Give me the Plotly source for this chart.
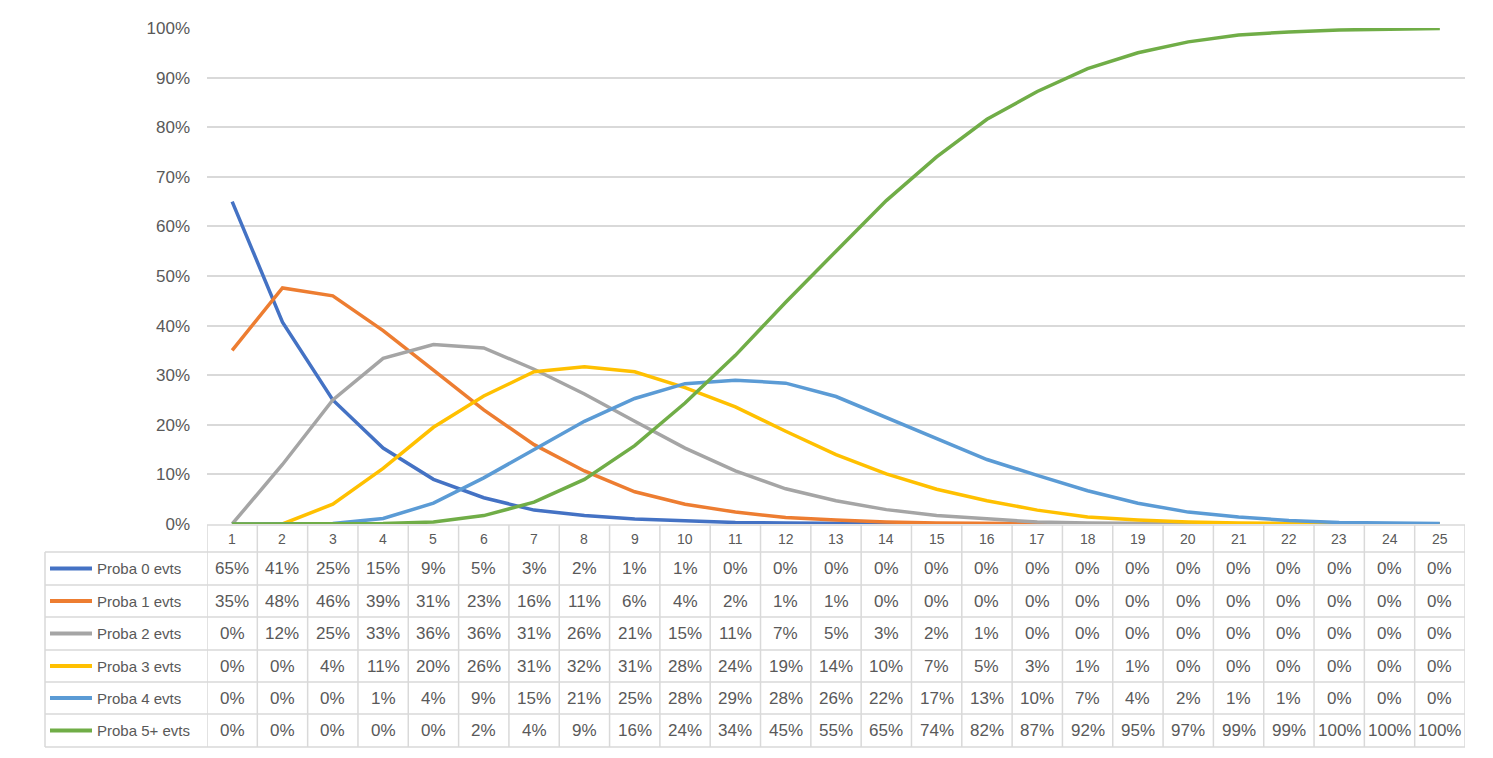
import plotly.graph_objects as go

x = list(range(1, 26))
names = ["Proba 0 evts", "Proba 1 evts", "Proba 2 evts", "Proba 3 evts", "Proba 4 evts", "Proba 5+ evts"]
p0 = [0.65,0.407,0.25,0.153,0.09,0.053,0.028,0.017,0.01,0.006,0.003,0.002,0.001,0,0,0,0,0,0,0,0,0,0,0,0]
p1 = [0.35,0.476,0.46,0.39,0.31,0.23,0.16,0.107,0.065,0.04,0.024,0.013,0.008,0.004,0.002,0.001,0,0,0,0,0,0,0,0,0]
p2 = [0,0.12,0.25,0.334,0.362,0.355,0.312,0.262,0.207,0.153,0.107,0.071,0.047,0.029,0.017,0.01,0.004,0.002,0.001,0,0,0,0,0,0]
p3 = [0,0,0.04,0.112,0.195,0.258,0.307,0.317,0.307,0.275,0.236,0.187,0.14,0.101,0.07,0.047,0.028,0.014,0.008,0.004,0.002,0.001,0,0,0]
p4 = [0,0,0.001,0.011,0.042,0.093,0.15,0.207,0.253,0.283,0.29,0.284,0.257,0.215,0.173,0.13,0.098,0.067,0.042,0.024,0.014,0.007,0.003,0.002,0.001]
p5 = [0,0,0,0.001,0.004,0.017,0.044,0.09,0.158,0.244,0.34,0.447,0.55,0.652,0.74,0.816,0.872,0.918,0.95,0.972,0.986,0.992,0.996,0.998,0.999]
series = [p0, p1, p2, p3, p4, p5]
colors = ["#4472C4", "#ED7D31", "#A5A5A5", "#FFC000", "#5B9BD5", "#70AD47"]

OFF = 8  # page body margin
W, H = 1493 - 2 * OFF, 758 - 2 * OFF
L, R, T, B = 207 - OFF, 1465 - OFF, 28 - OFF, 524 - OFF
def px(p): return (p - OFF - L) / (R - L)
def py(p): return (B - (p - OFF)) / (B - T)

GRID = "#D9D9D9"
TXT = "#595959"
FONT = "Liberation Sans"

fig = go.Figure()
for n, s, c in zip(names, series, colors):
    fig.add_trace(go.Scatter(x=x, y=s, name=n, mode="lines", line=dict(color=c, width=3.5), cliponaxis=False))

shapes, ann = [], []
row_b = [552, 585, 617, 650, 682, 714, 747]
shapes.append(dict(type="line", xref="paper", yref="paper", x0=0, x1=1, y0=py(525), y1=py(525), line=dict(color=GRID, width=1.5)))
for rb in row_b:
    shapes.append(dict(type="line", xref="paper", yref="paper", x0=px(45), x1=1, y0=py(rb), y1=py(rb), line=dict(color=GRID, width=1.5)))
for k in range(26):
    shapes.append(dict(type="line", xref="x", yref="paper", x0=k + 0.5, x1=k + 0.5, y0=py(525), y1=py(747), line=dict(color=GRID, width=1.5)))
shapes.append(dict(type="line", xref="paper", yref="paper", x0=px(45), x1=px(45), y0=py(552), y1=py(747), line=dict(color=GRID, width=1.5)))
shapes.append(dict(type="rect", xref="paper", yref="paper", x0=px(1), x1=px(1491), y0=py(1), y1=py(756), line=dict(color=GRID, width=1.5)))

for xi in x:
    ann.append(dict(x=xi, y=py(539), xref="x", yref="paper", yanchor="middle", text=str(xi), showarrow=False, font=dict(size=14, color=TXT, family=FONT)))
for r, (n, s, c) in enumerate(zip(names, series, colors)):
    yc = py((row_b[r] + row_b[r + 1]) / 2)
    shapes.append(dict(type="line", xref="paper", yref="paper", x0=px(50), x1=px(92), y0=yc, y1=yc, line=dict(color=c, width=4)))
    ann.append(dict(x=px(95), y=yc, xref="paper", yref="paper", xanchor="left", yanchor="middle", text=n, showarrow=False, font=dict(size=15, color=TXT, family=FONT)))
    for xi, v in zip(x, s):
        ann.append(dict(x=xi, y=yc, xref="x", yref="paper", yanchor="middle", text=f"{round(v * 100)}%", showarrow=False, font=dict(size=17, color=TXT, family=FONT)))

fig.update_layout(
    width=W, height=H, margin=dict(l=L, r=W - R, t=T, b=H - B),
    paper_bgcolor="white", plot_bgcolor="white", showlegend=False,
    shapes=shapes, annotations=ann, font=dict(family=FONT, color=TXT),
    xaxis=dict(range=[0.5, 25.5], showticklabels=False, showgrid=False, zeroline=False, fixedrange=True),
    yaxis=dict(range=[0, 1], dtick=0.1, tickformat=".0%", gridcolor=GRID, gridwidth=1.5, zeroline=False,
               tickfont=dict(size=17, color=TXT), ticklen=0, ticks="", ticklabelstandoff=16),
)
fig.write_html("out.html")
